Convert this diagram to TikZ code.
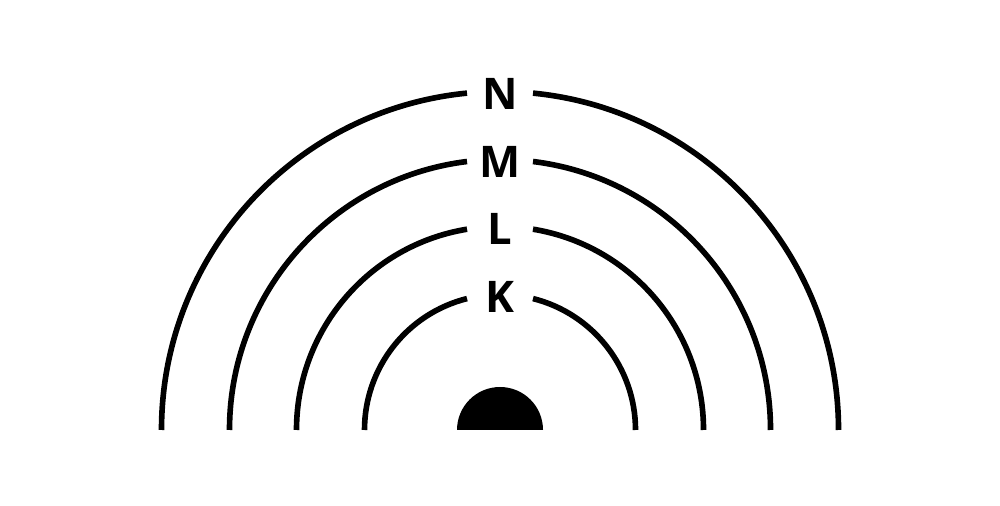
\documentclass[tikz,border=0pt]{standalone}
\usepackage{fontspec}
\setmainfont{Open Sans}
\usepackage{tikz}
\usetikzlibrary{calc}

\tikzset{
	shell/.style={line width=1.6pt},
	shelllabel/.style={font=\fontsize{12.4}{14}\selectfont\bfseries, inner sep=0pt}
}

\begin{document}
\begin{tikzpicture}
		\useasboundingbox (0,0) rectangle (10,5.06);
		\coordinate (centre) at (5,0.76);
		% nucleus
		\fill (centre) ++(-0.43,0) arc[start angle=180, end angle=0, radius=0.43] -- cycle;
		% shells with a gap for the letter
		\foreach \r/\lab in {3.385/N,2.705/M,2.035/L,1.355/K}
		{
		\pgfmathsetmacro{\g}{asin(0.33/\r)}
		\draw[shell] (centre) ++(\r,0) arc[start angle=0, end angle=90-\g, radius=\r];
		\draw[shell] (centre) ++(-\r,0) arc[start angle=180, end angle=90+\g, radius=\r];
		\node[shelllabel] (\lab) at ($(centre)+(0,\r-0.02)$) {\lab};
		}
	\end{tikzpicture}
\end{document}
